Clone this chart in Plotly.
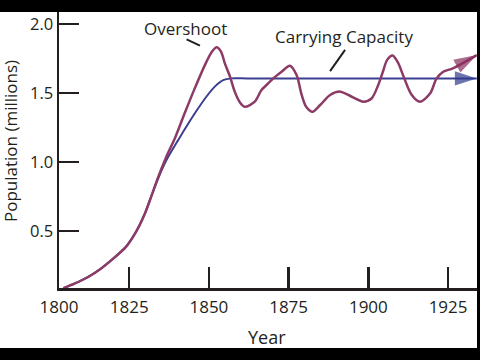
import plotly.graph_objects as go

# ---- data ----
POP_YEARS = [1804.4, 1808, 1812, 1816, 1820, 1824, 1826, 1828, 1830, 1832, 1834, 1836.5,
             1839.3, 1842.4, 1845.5, 1849, 1851, 1852.4, 1853.8, 1855, 1856.6, 1858.1,
             1859.8, 1861.3, 1864.4, 1866.5, 1868.1, 1870.2, 1872.8, 1875.4, 1877.5,
             1879.1, 1880.5, 1882.5, 1884.9, 1888, 1891.2, 1894.8, 1898.4, 1901, 1903.1,
             1904.5, 1905.9, 1907.6, 1909.3, 1911.2, 1913.5, 1916.2, 1919.4, 1921.4,
             1923.5, 1926.5, 1934.0]
POP_VALUES = [0.086, 0.12, 0.165, 0.225, 0.30, 0.385, 0.45, 0.53, 0.63, 0.755, 0.885, 1.03,
              1.17, 1.353, 1.53, 1.715, 1.80, 1.831, 1.80, 1.715, 1.62, 1.51,
              1.43, 1.40, 1.437, 1.522, 1.558, 1.606, 1.654, 1.698, 1.63,
              1.486, 1.40, 1.364, 1.413, 1.486, 1.51, 1.473, 1.437, 1.46, 1.558,
              1.65, 1.74, 1.772, 1.72, 1.61, 1.49, 1.437, 1.498, 1.606,
              1.654, 1.679, 1.775]

CAP_YEARS = [1804.4, 1808, 1812, 1816, 1820, 1824, 1826, 1828, 1830, 1832, 1834, 1836.5,
             1840.4, 1845.6, 1849.2, 1852, 1854.5, 1857, 1862, 1880, 1900, 1920, 1930,
             1934.0]
CAP_VALUES = [0.086, 0.12, 0.165, 0.225, 0.30, 0.385, 0.45, 0.53, 0.63, 0.755, 0.875, 1.005,
              1.16, 1.353, 1.473, 1.55, 1.594, 1.606, 1.606, 1.606, 1.606, 1.606, 1.606,
              1.606]

X_TICK_VALS = [1803, 1825, 1850, 1875, 1900, 1925]
X_TICK_TEXT = ["1800", "1825", "1850", "1875", "1900", "1925"]
Y_TICK_VALS = [0.5, 1.0, 1.5, 2.0]
Y_TICK_TEXT = ["0.5", "1.0", "1.5", "2.0"]
X_RANGE = [1803, 1934.07]
Y_RANGE = [0.087, 2.174]      # plot area now reaches the top edge of the frame

TEXT = "#231f20"
FONT = "Open Sans"
BLUE = "#3b3e91"
PURPLE = "#8c3b67"

H_PLOT = 288.0  # plot-area height in px (top 0 -> x axis at 288)

def arrow_marker(n, color, size):
    sizes = [0] * (n - 1) + [size]
    return dict(symbol="arrow", size=sizes, angleref="previous", color=color,
                line=dict(width=0))

fig = go.Figure()
fig.add_trace(go.Scatter(
    x=CAP_YEARS, y=CAP_VALUES, mode="lines+markers", cliponaxis=False,
    line=dict(color=BLUE, width=2, shape="spline", smoothing=0.8),
    marker=arrow_marker(len(CAP_YEARS), "#2f3a8c", 23),
    hoverinfo="skip", showlegend=False))
fig.add_trace(go.Scatter(
    x=POP_YEARS, y=POP_VALUES, mode="lines+markers", cliponaxis=False,
    line=dict(color=PURPLE, width=2.5, shape="spline", smoothing=0.8),
    marker=arrow_marker(len(POP_YEARS), "#8a2c5c", 24),
    hoverinfo="skip", showlegend=False))

axis_common = dict(showline=True, linecolor=TEXT, linewidth=2.5, ticks="inside",
                   tickwidth=2.5, tickcolor=TEXT, showgrid=False, zeroline=False,
                   automargin=False)

fig.update_xaxes(range=X_RANGE, tickvals=X_TICK_VALS, ticktext=X_TICK_TEXT,
                 ticklen=21, ticklabelstandoff=2,
                 tickfont=dict(family=FONT, color=TEXT, size=17), **axis_common)
fig.update_yaxes(range=Y_RANGE, tickvals=Y_TICK_VALS, ticktext=Y_TICK_TEXT,
                 ticklen=20, ticklabelstandoff=0,
                 tickfont=dict(family=FONT, color=TEXT, size=16.5), **axis_common)

def py(px_from_top):
    """paper y for a pixel row measured from the top of the figure"""
    return (H_PLOT - px_from_top) / H_PLOT

ann_font = dict(family=FONT, size=17, color=TEXT)
fig.update_layout(
    width=480, height=360,
    margin=dict(l=59, r=3, t=0, b=72, autoexpand=False),
    paper_bgcolor="black", plot_bgcolor="white",
    shapes=[
        dict(type="rect", xref="paper", yref="paper", x0=-59/418, x1=1.0,
             y0=py(348), y1=1.0, fillcolor="white", line=dict(width=0), layer="below"),
        # black letterbox band along the top edge of the frame
        dict(type="rect", xref="paper", yref="paper", x0=-60/418, x1=1.02,
             y0=py(12), y1=1.0, fillcolor="black", line=dict(width=0),
             layer="above"),
        dict(type="line", xref="x", yref="y", x0=1843.0, y0=1.889, x1=1847.2, y1=1.843,
             line=dict(color=TEXT, width=2)),
        dict(type="line", xref="x", yref="y", x0=1892.7, y0=1.812, x1=1888.0, y1=1.659,
             line=dict(color=TEXT, width=2)),
    ],
    annotations=[
        dict(text="Overshoot", x=1842.7, y=1.971, xref="x", yref="y", showarrow=False,
             xanchor="center", yanchor="middle", font=ann_font),
        dict(text="Carrying Capacity", x=1892.3, y=1.906, xref="x", yref="y",
             showarrow=False, xanchor="center", yanchor="middle", font=ann_font),
        dict(text="Population (millions)", textangle=-90, xref="paper", yref="paper",
             x=-49/418, y=py(141), showarrow=False,
             xanchor="center", yanchor="middle", font=ann_font),
        dict(text="Year", xref="paper", yref="paper", x=(267-59)/418,
             y=py(337), showarrow=False, xanchor="center", yanchor="middle",
             font=dict(family=FONT, size=18, color=TEXT)),
    ],
)

fig.write_html("out.html",
               config={"displayModeBar": False, "staticPlot": True},
               post_script="document.documentElement.style.margin='0px';"
                           "document.documentElement.style.background='black';"
                           "document.body.style.margin='0px';"
                           "document.body.style.background='black';"
                           "document.body.style.overflow='hidden';")
